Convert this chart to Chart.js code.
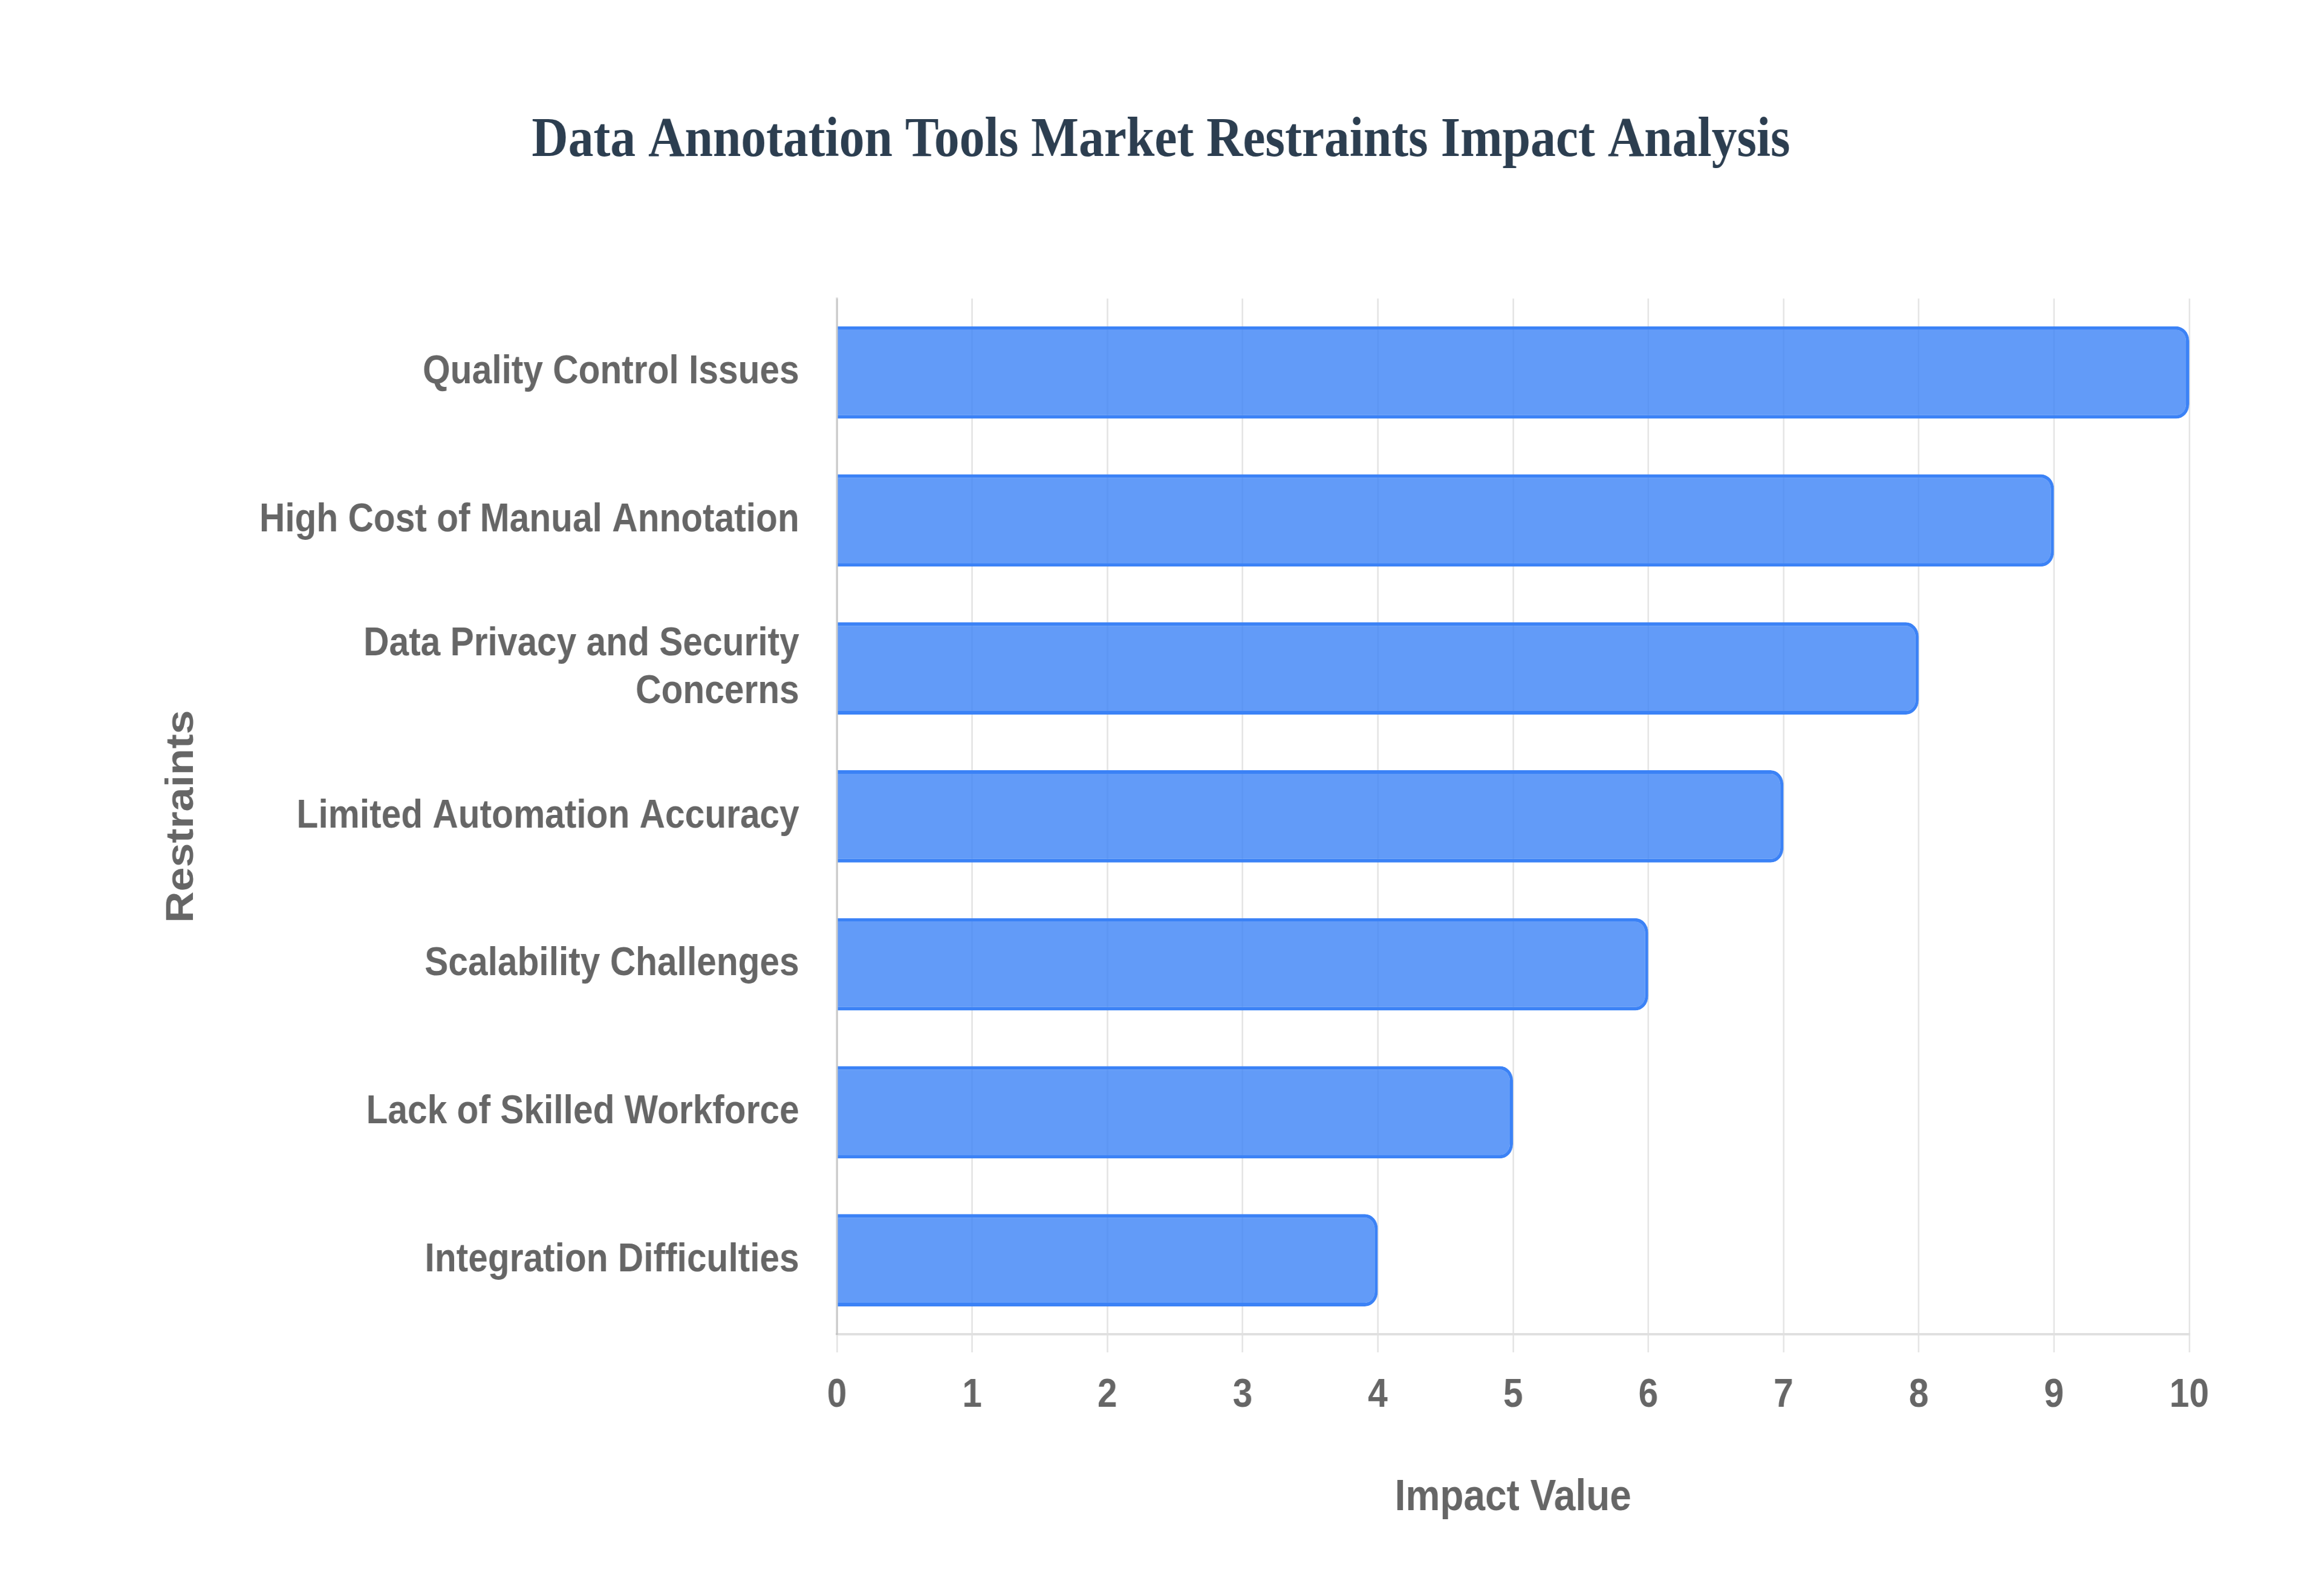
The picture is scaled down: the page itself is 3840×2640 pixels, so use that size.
<!DOCTYPE html>
<html>
<head>
<meta charset="utf-8">
<script src="https://cdn.jsdelivr.net/npm/chart.js@4.4.1/dist/chart.umd.min.js"></script>
<style>
  html, body { margin: 0; padding: 0; background: #ffffff; overflow: hidden; }
  #c { display: block; }
</style>
</head>
<body>
<canvas id="c" width="4320" height="2640" style="width:3840px;height:2640px;"></canvas>
<script>
const chartTitle = 'Data Annotation Tools Market Restraints Impact Analysis';
const categories = [
  'Quality Control Issues',
  'High Cost of Manual Annotation',
  ['Data Privacy and Security', 'Concerns'],
  'Limited Automation Accuracy',
  'Scalability Challenges',
  'Lack of Skilled Workforce',
  'Integration Difficulties'
];
const impactValues = [10, 9, 8, 7, 6, 5, 4];
const xTicksMin = 0;
const xTicksMax = 10;
const xAxisTitle = 'Impact Value';
const yAxisTitle = 'Restraints';

const tickFont = { family: '"Liberation Sans", Arial, sans-serif', size: 66, weight: 'bold' };
const axisTitleFont = { family: '"Liberation Sans", Arial, sans-serif', size: 72, weight: 'bold' };

const canvas = document.getElementById('c');
new Chart(canvas, {
  type: 'bar',
  data: {
    labels: categories,
    datasets: [{
      label: 'Impact Value',
      data: impactValues,
      backgroundColor: 'rgba(59,130,246,0.8)',
      borderColor: '#3b82f6',
      borderWidth: 6,
      borderRadius: 24,
      borderSkipped: 'start',
      categoryPercentage: 0.8,
      barPercentage: 0.78
    }]
  },
  options: {
    indexAxis: 'y',
    responsive: false,
    animation: false,
    devicePixelRatio: 1,
    layout: { padding: { top: 0, left: 247, right: 247, bottom: 119 } },
    plugins: {
      legend: { display: false },
      tooltip: { enabled: false },
      title: {
        display: true,
        text: chartTitle,
        color: '#2c3e50',
        font: { family: '"Liberation Serif", "Times New Roman", serif', size: 94, weight: 'bold' },
        padding: { top: 177, bottom: 204 }
      }
    },
    scales: {
      x: {
        min: xTicksMin,
        max: xTicksMax,
        ticks: { stepSize: 1, color: '#666666', font: tickFont, padding: 32 },
        grid: { color: 'rgba(0,0,0,0.1)', lineWidth: 3, tickLength: 30 },
        border: { color: 'rgba(0,0,0,0.12)', width: 4 },
        title: { display: true, text: xAxisTitle, color: '#666666', font: axisTitleFont, padding: { top: 88, bottom: 0 } },
        afterFit: (s) => { s.height = 314; }
      },
      y: {
        ticks: { color: '#666666', font: tickFont, padding: 70 },
        grid: { display: false, drawTicks: false },
        border: { color: 'rgba(0,0,0,0.12)', width: 4 },
        title: { display: true, text: yAxisTitle, color: '#666666', font: axisTitleFont, padding: { top: 49, bottom: 0 } },
        afterFit: (s) => { s.width = 1310; }
      }
    }
  }
});
canvas.style.width = '3840px';
canvas.style.height = '2640px';
</script>
</body>
</html>
